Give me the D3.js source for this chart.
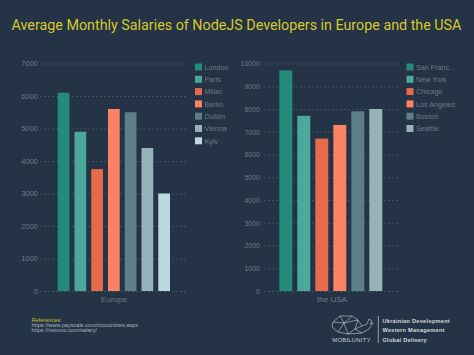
<!DOCTYPE html>
<html><head><meta charset="utf-8">
<script src="https://cdn.jsdelivr.net/npm/d3@7"></script>
<style>
html,body{margin:0;padding:0;background:#243345;}
svg{display:block;}
</style></head>
<body>
<svg id="c" width="474" height="355"></svg>
<script>
// ---- data ----
const euCities = ["London","Paris","Milan","Berlin","Dublin","Vienna","Kyiv"];
const euValues = [6100,4900,3750,5600,5500,4400,3000];
const euTicks = [0,1000,2000,3000,4000,5000,6000,7000];
const usCities = ["San Franc..","New York","Chicago","Los Angeles","Boston","Seattle"];
const usValues = [9700,7700,6700,7300,7900,8000];
const usTicks = [0,1000,2000,3000,4000,5000,6000,7000,8000,9000,10000];
const palette = ["#248a79","#4aa99b","#e56b4b","#fb8262","#5f7f87","#96b3ba","#bdd9df"];
const groups = ["Europe","the USA"];
const refs = ["https://www.payscale.com/rccountries.aspx","https://neuvoo.com/salary/"];

const svg = d3.select("#c");
svg.append("rect").attr("width",474).attr("height",355).attr("fill","#243345");

svg.append("text").attr("x",236.5).attr("y",29.5).attr("text-anchor","middle")
  .attr("font-family","Roboto").attr("font-size",14.3).attr("fill","#d8c82c")
  .text("Average Monthly Salaries of NodeJS Developers in Europe and the USA");

const axisColor = "#6d7a88";
const gridColor = "#4b5a6a";

function panel(cfg){
  const y = d3.scaleLinear().domain([0,cfg.max]).range([291,63.5]);
  const x = d3.scaleBand().domain(cfg.cities).range([cfg.x0,cfg.x1]).paddingInner(cfg.pad).paddingOuter(0);
  const g = svg.append("g");
  g.selectAll("line.grid").data(cfg.ticks).join("line")
    .attr("x1",cfg.gx0).attr("x2",cfg.gx1)
    .attr("y1",d=>y(d)+0.5).attr("y2",d=>y(d)+0.5)
    .attr("stroke",gridColor).attr("stroke-width",0.8).attr("stroke-dasharray","2,2");
  const ax = g.append("g").attr("transform",`translate(${cfg.lx},0)`)
    .call(d3.axisLeft(y).tickValues(cfg.ticks).tickSize(0).tickPadding(0).tickFormat(d3.format("d")));
  ax.select(".domain").remove();
  ax.selectAll("text").attr("fill",axisColor).attr("font-family","Liberation Sans, Arial").attr("font-size",cfg.fs);
  g.selectAll("rect.bar").data(cfg.values).join("rect")
    .attr("x",(d,i)=>x(cfg.cities[i])).attr("width",x.bandwidth())
    .attr("y",d=>y(d)).attr("height",d=>y(0)-y(d))
    .attr("fill",(d,i)=>palette[i]);
  g.append("text").attr("x",cfg.labelX).attr("y",302).attr("text-anchor","middle")
    .attr("font-family","Liberation Sans, Arial").attr("font-size",8).attr("fill",axisColor).text(cfg.group);
  const lg = g.append("g");
  cfg.cities.forEach((c,i)=>{
    const yy = 63.5 + i*12.3;
    lg.append("rect").attr("x",cfg.legX).attr("y",yy).attr("width",7).attr("height",7).attr("fill",palette[i]);
    lg.append("text").attr("x",cfg.legX+9.5).attr("y",yy+6.2).attr("font-family","Liberation Sans, Arial")
      .attr("font-size",7.2).attr("fill",axisColor).text(c);
  });
}

panel({cities:euCities,values:euValues,ticks:euTicks,max:7000,x0:57.7,x1:170,pad:0.3,gx0:40,gx1:188,lx:38,fs:7.5,group:groups[0],labelX:114,legX:195});
panel({cities:usCities,values:usValues,ticks:usTicks,max:10000,x0:279.3,x1:382.3,pad:0.28,gx0:264,gx1:399,lx:260,fs:7,group:groups[1],labelX:332,legX:406.5});

// footer
svg.append("text").attr("x",31.5).attr("y",322).attr("font-family","Liberation Sans, Arial").attr("font-size",5.6)
  .attr("fill","#c9c22e").text("References:");
refs.forEach((r,i)=>{
  svg.append("text").attr("x",31.5).attr("y",327.3+i*4.8).attr("font-family","Liberation Sans, Arial").attr("font-size",5.6)
    .attr("fill","#aab3bd").text(r);
});

// logo
const lgo = svg.append("g").attr("fill","none").attr("stroke","#c9d0d6").attr("stroke-width",0.6);
lgo.append("path").attr("d","M333,322 L340,316 L352,316 L358,320 L362,326 L367,324 L369,319 L372,321 L370,324 L373,323 L369,329 L362,333 L348,334 L338,332 L332,327 Z");
lgo.append("path").attr("d","M340,316 L344,323 L352,316 M344,323 L358,320 M344,323 L348,334 M344,323 L338,332 M333,322 L344,323 M358,320 L355,329 L348,334 M355,329 L362,333 M355,329 L362,326");
svg.append("text").attr("x",351.5).attr("y",342).attr("text-anchor","middle").attr("font-family","Liberation Sans, Arial")
  .attr("font-size",5.8).attr("letter-spacing",0.3).attr("fill","#c9d0d6").text("MOBILUNITY");
svg.append("line").attr("x1",378.3).attr("x2",378.3).attr("y1",316).attr("y2",343).attr("stroke","#c9d0d6").attr("stroke-width",0.7);
["Ukrainian Development","Western Management","Global Delivery"].forEach((t,i)=>{
  svg.append("text").attr("x",382.5).attr("y",322.6+i*9.7).attr("font-family","Liberation Sans, Arial").attr("font-weight","bold")
    .attr("font-size",5.6).attr("letter-spacing",0.25).attr("fill","#d4d9de").text(t);
});
</script>
</body></html>
